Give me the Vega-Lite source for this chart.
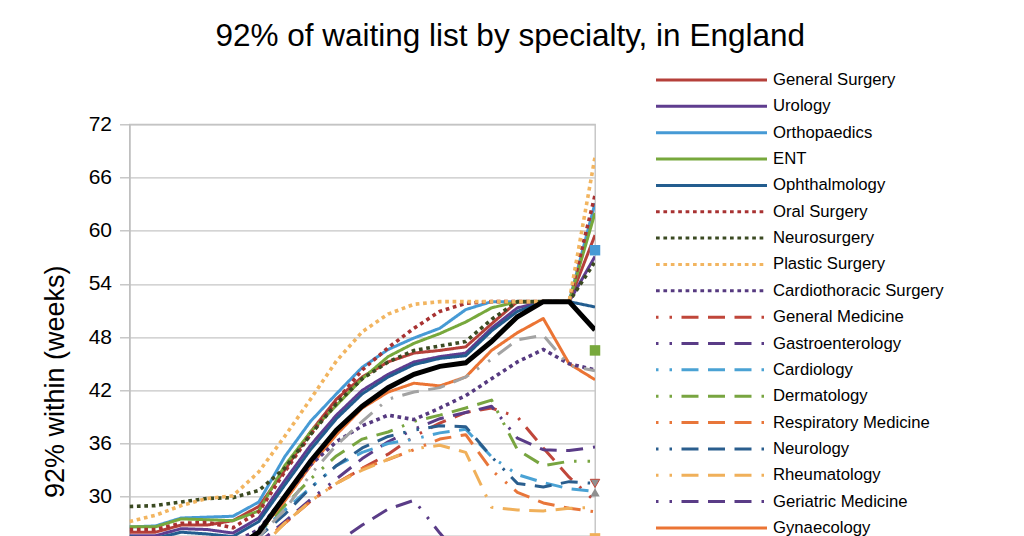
{
  "$schema": "https://vega.github.io/schema/vega-lite/v6.json",
  "width": 465.5,
  "height": 411.7,
  "autosize": {"type": "none"},
  "padding": {"left": 129.5, "top": 124.3, "right": 429, "bottom": 0},
  "background": "white",
  "config": {
    "font": "Liberation Sans",
    "view": {"stroke": "#bfbfbf", "strokeWidth": 1.3}
  },
  "title": {
    "text": "92% of waiting list by specialty, in England",
    "fontSize": 31.5,
    "fontWeight": "normal",
    "color": "black",
    "font": "Liberation Sans",
    "anchor": "middle",
    "frame": "group",
    "dx": 148,
    "offset": 18
  },
  "datasets": {
    "lines": [
      {"s":"General Surgery","m":0,"v":26.0},{"s":"General Surgery","m":1,"v":26.0},{"s":"General Surgery","m":2,"v":26.8},{"s":"General Surgery","m":3,"v":26.8},{"s":"General Surgery","m":4,"v":27.3},{"s":"General Surgery","m":5,"v":28.9},{"s":"General Surgery","m":6,"v":33.0},{"s":"General Surgery","m":7,"v":37.3},{"s":"General Surgery","m":8,"v":41.0},{"s":"General Surgery","m":9,"v":43.5},{"s":"General Surgery","m":10,"v":45.2},{"s":"General Surgery","m":11,"v":46.2},{"s":"General Surgery","m":12,"v":46.5},{"s":"General Surgery","m":13,"v":46.9},{"s":"General Surgery","m":14,"v":49.5},{"s":"General Surgery","m":15,"v":52},{"s":"General Surgery","m":16,"v":52},{"s":"General Surgery","m":17,"v":52},{"s":"General Surgery","m":18,"v":59.5},
      {"s":"Urology","m":0,"v":25.6},{"s":"Urology","m":1,"v":25.6},{"s":"Urology","m":2,"v":26.4},{"s":"Urology","m":3,"v":26.3},{"s":"Urology","m":4,"v":25.9},{"s":"Urology","m":5,"v":27.6},{"s":"Urology","m":6,"v":31.8},{"s":"Urology","m":7,"v":35.8},{"s":"Urology","m":8,"v":39.2},{"s":"Urology","m":9,"v":42.0},{"s":"Urology","m":10,"v":43.8},{"s":"Urology","m":11,"v":45.2},{"s":"Urology","m":12,"v":45.8},{"s":"Urology","m":13,"v":46.2},{"s":"Urology","m":14,"v":49.0},{"s":"Urology","m":15,"v":51.3},{"s":"Urology","m":16,"v":52},{"s":"Urology","m":17,"v":52},{"s":"Urology","m":18,"v":57.1},
      {"s":"Orthopaedics","m":0,"v":26.6},{"s":"Orthopaedics","m":1,"v":26.7},{"s":"Orthopaedics","m":2,"v":27.6},{"s":"Orthopaedics","m":3,"v":27.7},{"s":"Orthopaedics","m":4,"v":27.8},{"s":"Orthopaedics","m":5,"v":29.4},{"s":"Orthopaedics","m":6,"v":34.5},{"s":"Orthopaedics","m":7,"v":38.5},{"s":"Orthopaedics","m":8,"v":41.6},{"s":"Orthopaedics","m":9,"v":44.6},{"s":"Orthopaedics","m":10,"v":46.6},{"s":"Orthopaedics","m":11,"v":47.9},{"s":"Orthopaedics","m":12,"v":49.0},{"s":"Orthopaedics","m":13,"v":51.1},{"s":"Orthopaedics","m":14,"v":52},{"s":"Orthopaedics","m":15,"v":52},{"s":"Orthopaedics","m":16,"v":52},{"s":"Orthopaedics","m":17,"v":52},{"s":"Orthopaedics","m":18,"v":63.1},
      {"s":"ENT","m":0,"v":26.6},{"s":"ENT","m":1,"v":26.6},{"s":"ENT","m":2,"v":27.5},{"s":"ENT","m":3,"v":27.4},{"s":"ENT","m":4,"v":27.3},{"s":"ENT","m":5,"v":28.4},{"s":"ENT","m":6,"v":33.5},{"s":"ENT","m":7,"v":37.3},{"s":"ENT","m":8,"v":40.3},{"s":"ENT","m":9,"v":43.3},{"s":"ENT","m":10,"v":45.8},{"s":"ENT","m":11,"v":47.3},{"s":"ENT","m":12,"v":48.4},{"s":"ENT","m":13,"v":49.7},{"s":"ENT","m":14,"v":51.3},{"s":"ENT","m":15,"v":52},{"s":"ENT","m":16,"v":52},{"s":"ENT","m":17,"v":52},{"s":"ENT","m":18,"v":62.0},
      {"s":"Ophthalmology","m":0,"v":25.5},{"s":"Ophthalmology","m":1,"v":25.3},{"s":"Ophthalmology","m":2,"v":26.0},{"s":"Ophthalmology","m":3,"v":25.8},{"s":"Ophthalmology","m":4,"v":25.5},{"s":"Ophthalmology","m":5,"v":27.2},{"s":"Ophthalmology","m":6,"v":31.3},{"s":"Ophthalmology","m":7,"v":35.3},{"s":"Ophthalmology","m":8,"v":38.8},{"s":"Ophthalmology","m":9,"v":41.6},{"s":"Ophthalmology","m":10,"v":43.5},{"s":"Ophthalmology","m":11,"v":44.9},{"s":"Ophthalmology","m":12,"v":45.6},{"s":"Ophthalmology","m":13,"v":45.9},{"s":"Ophthalmology","m":14,"v":48.7},{"s":"Ophthalmology","m":15,"v":50.9},{"s":"Ophthalmology","m":16,"v":52},{"s":"Ophthalmology","m":17,"v":52},{"s":"Ophthalmology","m":18,"v":51.4},
      {"s":"Oral Surgery","m":0,"v":26.3},{"s":"Oral Surgery","m":1,"v":26.3},{"s":"Oral Surgery","m":2,"v":27.0},{"s":"Oral Surgery","m":3,"v":27.1},{"s":"Oral Surgery","m":4,"v":26.5},{"s":"Oral Surgery","m":5,"v":28.3},{"s":"Oral Surgery","m":6,"v":32.8},{"s":"Oral Surgery","m":7,"v":37.0},{"s":"Oral Surgery","m":8,"v":40.8},{"s":"Oral Surgery","m":9,"v":44.3},{"s":"Oral Surgery","m":10,"v":46.8},{"s":"Oral Surgery","m":11,"v":49.0},{"s":"Oral Surgery","m":12,"v":50.9},{"s":"Oral Surgery","m":13,"v":51.8},{"s":"Oral Surgery","m":14,"v":52},{"s":"Oral Surgery","m":15,"v":52},{"s":"Oral Surgery","m":16,"v":52},{"s":"Oral Surgery","m":17,"v":52},{"s":"Oral Surgery","m":18,"v":64.0},
      {"s":"Neurosurgery","m":0,"v":28.9},{"s":"Neurosurgery","m":1,"v":29.0},{"s":"Neurosurgery","m":2,"v":29.4},{"s":"Neurosurgery","m":3,"v":29.8},{"s":"Neurosurgery","m":4,"v":29.9},{"s":"Neurosurgery","m":5,"v":30.7},{"s":"Neurosurgery","m":6,"v":33.2},{"s":"Neurosurgery","m":7,"v":37.0},{"s":"Neurosurgery","m":8,"v":40.5},{"s":"Neurosurgery","m":9,"v":43.3},{"s":"Neurosurgery","m":10,"v":45.2},{"s":"Neurosurgery","m":11,"v":46.5},{"s":"Neurosurgery","m":12,"v":47.0},{"s":"Neurosurgery","m":13,"v":47.5},{"s":"Neurosurgery","m":14,"v":50.0},{"s":"Neurosurgery","m":15,"v":52},{"s":"Neurosurgery","m":16,"v":52},{"s":"Neurosurgery","m":17,"v":52},{"s":"Neurosurgery","m":18,"v":56.5},
      {"s":"Plastic Surgery","m":0,"v":27.2},{"s":"Plastic Surgery","m":1,"v":27.9},{"s":"Plastic Surgery","m":2,"v":29.0},{"s":"Plastic Surgery","m":3,"v":29.8},{"s":"Plastic Surgery","m":4,"v":30.1},{"s":"Plastic Surgery","m":5,"v":32.8},{"s":"Plastic Surgery","m":6,"v":36.8},{"s":"Plastic Surgery","m":7,"v":41.0},{"s":"Plastic Surgery","m":8,"v":45.3},{"s":"Plastic Surgery","m":9,"v":48.6},{"s":"Plastic Surgery","m":10,"v":50.6},{"s":"Plastic Surgery","m":11,"v":51.7},{"s":"Plastic Surgery","m":12,"v":52},{"s":"Plastic Surgery","m":13,"v":52},{"s":"Plastic Surgery","m":14,"v":52},{"s":"Plastic Surgery","m":15,"v":52},{"s":"Plastic Surgery","m":16,"v":52},{"s":"Plastic Surgery","m":17,"v":52},{"s":"Plastic Surgery","m":18,"v":68.3},
      {"s":"Cardiothoracic Surgery","m":0,"v":24.5},{"s":"Cardiothoracic Surgery","m":1,"v":24.6},{"s":"Cardiothoracic Surgery","m":2,"v":25.0},{"s":"Cardiothoracic Surgery","m":3,"v":25.0},{"s":"Cardiothoracic Surgery","m":4,"v":24.8},{"s":"Cardiothoracic Surgery","m":5,"v":26.3},{"s":"Cardiothoracic Surgery","m":6,"v":30.0},{"s":"Cardiothoracic Surgery","m":7,"v":33.6},{"s":"Cardiothoracic Surgery","m":8,"v":36.2},{"s":"Cardiothoracic Surgery","m":9,"v":38.0},{"s":"Cardiothoracic Surgery","m":10,"v":39.2},{"s":"Cardiothoracic Surgery","m":11,"v":38.7},{"s":"Cardiothoracic Surgery","m":12,"v":40.0},{"s":"Cardiothoracic Surgery","m":13,"v":41.4},{"s":"Cardiothoracic Surgery","m":14,"v":43.3},{"s":"Cardiothoracic Surgery","m":15,"v":45.2},{"s":"Cardiothoracic Surgery","m":16,"v":46.6},{"s":"Cardiothoracic Surgery","m":17,"v":45.0},{"s":"Cardiothoracic Surgery","m":18,"v":44.3},
      {"s":"General Medicine","m":0,"v":23.5},{"s":"General Medicine","m":1,"v":23.5},{"s":"General Medicine","m":2,"v":23.8},{"s":"General Medicine","m":3,"v":23.5},{"s":"General Medicine","m":4,"v":23.0},{"s":"General Medicine","m":5,"v":24.5},{"s":"General Medicine","m":6,"v":27.0},{"s":"General Medicine","m":7,"v":29.5},{"s":"General Medicine","m":8,"v":31.5},{"s":"General Medicine","m":9,"v":33.2},{"s":"General Medicine","m":10,"v":34.8},{"s":"General Medicine","m":11,"v":36.8},{"s":"General Medicine","m":12,"v":38.3},{"s":"General Medicine","m":13,"v":39.5},{"s":"General Medicine","m":14,"v":40.0},{"s":"General Medicine","m":15,"v":39.0},{"s":"General Medicine","m":16,"v":35.5},{"s":"General Medicine","m":17,"v":32.2},{"s":"General Medicine","m":18,"v":29.5},
      {"s":"Gastroenterology","m":0,"v":23.0},{"s":"Gastroenterology","m":1,"v":23.0},{"s":"Gastroenterology","m":2,"v":23.3},{"s":"Gastroenterology","m":3,"v":23.2},{"s":"Gastroenterology","m":4,"v":23.0},{"s":"Gastroenterology","m":5,"v":24.8},{"s":"Gastroenterology","m":6,"v":27.2},{"s":"Gastroenterology","m":7,"v":29.7},{"s":"Gastroenterology","m":8,"v":32.0},{"s":"Gastroenterology","m":9,"v":34.3},{"s":"Gastroenterology","m":10,"v":36.2},{"s":"Gastroenterology","m":11,"v":37.6},{"s":"Gastroenterology","m":12,"v":38.8},{"s":"Gastroenterology","m":13,"v":39.5},{"s":"Gastroenterology","m":14,"v":40.2},{"s":"Gastroenterology","m":15,"v":36.6},{"s":"Gastroenterology","m":16,"v":35.3},{"s":"Gastroenterology","m":17,"v":35.2},{"s":"Gastroenterology","m":18,"v":35.6},
      {"s":"Cardiology","m":0,"v":23.5},{"s":"Cardiology","m":1,"v":23.5},{"s":"Cardiology","m":2,"v":23.8},{"s":"Cardiology","m":3,"v":23.6},{"s":"Cardiology","m":4,"v":23.5},{"s":"Cardiology","m":5,"v":26.0},{"s":"Cardiology","m":6,"v":28.5},{"s":"Cardiology","m":7,"v":31.0},{"s":"Cardiology","m":8,"v":33.5},{"s":"Cardiology","m":9,"v":35.0},{"s":"Cardiology","m":10,"v":36.0},{"s":"Cardiology","m":11,"v":36.5},{"s":"Cardiology","m":12,"v":37.2},{"s":"Cardiology","m":13,"v":37.6},{"s":"Cardiology","m":14,"v":34.5},{"s":"Cardiology","m":15,"v":32.5},{"s":"Cardiology","m":16,"v":31.6},{"s":"Cardiology","m":17,"v":30.9},{"s":"Cardiology","m":18,"v":30.6},
      {"s":"Dermatology","m":0,"v":24.0},{"s":"Dermatology","m":1,"v":24.0},{"s":"Dermatology","m":2,"v":24.3},{"s":"Dermatology","m":3,"v":24.2},{"s":"Dermatology","m":4,"v":24.0},{"s":"Dermatology","m":5,"v":26.0},{"s":"Dermatology","m":6,"v":29.0},{"s":"Dermatology","m":7,"v":32.0},{"s":"Dermatology","m":8,"v":34.6},{"s":"Dermatology","m":9,"v":36.5},{"s":"Dermatology","m":10,"v":37.3},{"s":"Dermatology","m":11,"v":38.5},{"s":"Dermatology","m":12,"v":39.2},{"s":"Dermatology","m":13,"v":40.0},{"s":"Dermatology","m":14,"v":40.9},{"s":"Dermatology","m":15,"v":35.3},{"s":"Dermatology","m":16,"v":33.5},{"s":"Dermatology","m":17,"v":34.0},{"s":"Dermatology","m":18,"v":34.0},
      {"s":"Respiratory Medicine","m":0,"v":22.5},{"s":"Respiratory Medicine","m":1,"v":22.5},{"s":"Respiratory Medicine","m":2,"v":22.8},{"s":"Respiratory Medicine","m":3,"v":22.6},{"s":"Respiratory Medicine","m":4,"v":22.5},{"s":"Respiratory Medicine","m":5,"v":24.5},{"s":"Respiratory Medicine","m":6,"v":27.0},{"s":"Respiratory Medicine","m":7,"v":29.5},{"s":"Respiratory Medicine","m":8,"v":31.5},{"s":"Respiratory Medicine","m":9,"v":33.2},{"s":"Respiratory Medicine","m":10,"v":34.2},{"s":"Respiratory Medicine","m":11,"v":35.3},{"s":"Respiratory Medicine","m":12,"v":36.5},{"s":"Respiratory Medicine","m":13,"v":37.0},{"s":"Respiratory Medicine","m":14,"v":33.0},{"s":"Respiratory Medicine","m":15,"v":30.5},{"s":"Respiratory Medicine","m":16,"v":29.3},{"s":"Respiratory Medicine","m":17,"v":28.7},{"s":"Respiratory Medicine","m":18,"v":28.3},
      {"s":"Neurology","m":0,"v":23.5},{"s":"Neurology","m":1,"v":23.5},{"s":"Neurology","m":2,"v":23.7},{"s":"Neurology","m":3,"v":23.5},{"s":"Neurology","m":4,"v":23.3},{"s":"Neurology","m":5,"v":25.5},{"s":"Neurology","m":6,"v":28.0},{"s":"Neurology","m":7,"v":31.0},{"s":"Neurology","m":8,"v":33.5},{"s":"Neurology","m":9,"v":35.5},{"s":"Neurology","m":10,"v":36.8},{"s":"Neurology","m":11,"v":37.5},{"s":"Neurology","m":12,"v":38.0},{"s":"Neurology","m":13,"v":37.9},{"s":"Neurology","m":14,"v":34.5},{"s":"Neurology","m":15,"v":31.5},{"s":"Neurology","m":16,"v":31.1},{"s":"Neurology","m":17,"v":31.7},{"s":"Neurology","m":18,"v":31.5},
      {"s":"Rheumatology","m":0,"v":22.0},{"s":"Rheumatology","m":1,"v":22.0},{"s":"Rheumatology","m":2,"v":22.3},{"s":"Rheumatology","m":3,"v":22.2},{"s":"Rheumatology","m":4,"v":22.0},{"s":"Rheumatology","m":5,"v":24.0},{"s":"Rheumatology","m":6,"v":27.0},{"s":"Rheumatology","m":7,"v":29.5},{"s":"Rheumatology","m":8,"v":31.5},{"s":"Rheumatology","m":9,"v":33.0},{"s":"Rheumatology","m":10,"v":34.2},{"s":"Rheumatology","m":11,"v":35.4},{"s":"Rheumatology","m":12,"v":35.8},{"s":"Rheumatology","m":13,"v":35.0},{"s":"Rheumatology","m":14,"v":28.8},{"s":"Rheumatology","m":15,"v":28.5},{"s":"Rheumatology","m":16,"v":28.4},{"s":"Rheumatology","m":17,"v":28.7},{"s":"Rheumatology","m":18,"v":28.8},
      {"s":"Geriatric Medicine","m":0,"v":19.0},{"s":"Geriatric Medicine","m":1,"v":19.0},{"s":"Geriatric Medicine","m":2,"v":19.5},{"s":"Geriatric Medicine","m":3,"v":19.3},{"s":"Geriatric Medicine","m":4,"v":19.0},{"s":"Geriatric Medicine","m":5,"v":20.5},{"s":"Geriatric Medicine","m":6,"v":22.0},{"s":"Geriatric Medicine","m":7,"v":23.5},{"s":"Geriatric Medicine","m":8,"v":24.8},{"s":"Geriatric Medicine","m":9,"v":26.8},{"s":"Geriatric Medicine","m":10,"v":28.6},{"s":"Geriatric Medicine","m":11,"v":29.6},{"s":"Geriatric Medicine","m":12,"v":25.9},{"s":"Geriatric Medicine","m":13,"v":22.5},{"s":"Geriatric Medicine","m":14,"v":21.0},{"s":"Geriatric Medicine","m":15,"v":20.5},{"s":"Geriatric Medicine","m":16,"v":20.0},{"s":"Geriatric Medicine","m":17,"v":20.0},{"s":"Geriatric Medicine","m":18,"v":20.0},
      {"s":"Gynaecology","m":0,"v":23.0},{"s":"Gynaecology","m":1,"v":23.0},{"s":"Gynaecology","m":2,"v":23.5},{"s":"Gynaecology","m":3,"v":23.3},{"s":"Gynaecology","m":4,"v":24.0},{"s":"Gynaecology","m":5,"v":26.0},{"s":"Gynaecology","m":6,"v":29.5},{"s":"Gynaecology","m":7,"v":33.5},{"s":"Gynaecology","m":8,"v":37.0},{"s":"Gynaecology","m":9,"v":40.0},{"s":"Gynaecology","m":10,"v":41.8},{"s":"Gynaecology","m":11,"v":42.8},{"s":"Gynaecology","m":12,"v":42.5},{"s":"Gynaecology","m":13,"v":43.5},{"s":"Gynaecology","m":14,"v":46.5},{"s":"Gynaecology","m":15,"v":48.5},{"s":"Gynaecology","m":16,"v":50.1},{"s":"Gynaecology","m":17,"v":45.0},{"s":"Gynaecology","m":18,"v":43.2},
      {"s":"Other","m":0,"v":22.5},{"s":"Other","m":1,"v":22.5},{"s":"Other","m":2,"v":23.0},{"s":"Other","m":3,"v":23.0},{"s":"Other","m":4,"v":23.0},{"s":"Other","m":5,"v":25.5},{"s":"Other","m":6,"v":28.5},{"s":"Other","m":7,"v":32.5},{"s":"Other","m":8,"v":35.8},{"s":"Other","m":9,"v":38.5},{"s":"Other","m":10,"v":41.0},{"s":"Other","m":11,"v":41.8},{"s":"Other","m":12,"v":42.3},{"s":"Other","m":13,"v":43.5},{"s":"Other","m":14,"v":45.5},{"s":"Other","m":15,"v":47.7},{"s":"Other","m":16,"v":48.2},{"s":"Other","m":17,"v":44.8},{"s":"Other","m":18,"v":44.2},
      {"s":"All specialties","m":0,"v":23.0},{"s":"All specialties","m":1,"v":23.0},{"s":"All specialties","m":2,"v":23.5},{"s":"All specialties","m":3,"v":23.3},{"s":"All specialties","m":4,"v":24.0},{"s":"All specialties","m":5,"v":26.0},{"s":"All specialties","m":6,"v":30.0},{"s":"All specialties","m":7,"v":34.0},{"s":"All specialties","m":8,"v":37.5},{"s":"All specialties","m":9,"v":40.2},{"s":"All specialties","m":10,"v":42.3},{"s":"All specialties","m":11,"v":43.8},{"s":"All specialties","m":12,"v":44.7},{"s":"All specialties","m":13,"v":45.1},{"s":"All specialties","m":14,"v":47.5},{"s":"All specialties","m":15,"v":50.3},{"s":"All specialties","m":16,"v":52},{"s":"All specialties","m":17,"v":52},{"s":"All specialties","m":18,"v":48.8}
    ],
    "marks": [
      {"k":"blue","m":18,"v":57.8},
      {"k":"green","m":18,"v":46.5},
      {"k":"grayTop","m":18,"v":31.5},
      {"k":"grayBottom","m":18,"v":30.5},
      {"k":"orange","m":18,"v":25.3}
    ]
  },
  "data": {"name": "lines"},
  "encoding": {
    "x": {"field": "m", "type": "quantitative", "scale": {"domain": [0, 18], "nice": false, "zero": false}, "axis": null},
    "y": {
      "field": "v", "type": "quantitative",
      "scale": {"domain": [25.57, 72], "nice": false, "zero": false},
      "axis": {
        "values": [30, 36, 42, 48, 54, 60, 66, 72],
        "grid": true, "gridColor": "#c6c6c6", "gridWidth": 1.3,
        "domainColor": "#bfbfbf", "domainWidth": 1.3,
        "tickColor": "#bfbfbf", "tickSize": 10, "tickWidth": 1.3,
        "labelFontSize": 21, "labelColor": "black", "labelPadding": 8, "labelFont": "Liberation Sans",
        "title": "92% within (weeks)", "titleFontSize": 27, "titleFontWeight": "normal", "titleColor": "black",
        "titleFont": "Liberation Sans", "titleX": -74, "titleY": 257, "titleAngle": -90,
        "titleBaseline": "middle", "titleAlign": "center"
      }
    }
  },
  "layer": [
    {
      "transform": [{"filter": {"field": "s", "oneOf": ["General Surgery","Urology","Orthopaedics","ENT","Ophthalmology","General Medicine","Gastroenterology","Cardiology","Dermatology","Respiratory Medicine","Neurology","Rheumatology","Geriatric Medicine","Gynaecology"]}}],
      "mark": {"type": "line", "strokeWidth": 3, "clip": true, "strokeJoin": "round"},
      "encoding": {
        "color": {
          "field": "s", "type": "nominal",
          "scale": {
            "domain": ["General Surgery","Urology","Orthopaedics","ENT","Ophthalmology","Oral Surgery","Neurosurgery","Plastic Surgery","Cardiothoracic Surgery","General Medicine","Gastroenterology","Cardiology","Dermatology","Respiratory Medicine","Neurology","Rheumatology","Geriatric Medicine","Gynaecology"],
            "range": ["#b5403a","#5f3d8f","#469ad5","#77a83c","#235d8f","#a83232","#3b4a22","#f2b560","#563a80","#c0463a","#5a3c87","#4aa2d4","#78a540","#e8763a","#2a5e8e","#f0b05a","#5a3c87","#eb7434"]
          },
          "legend": {
            "title": null, "orient": "none", "legendX": 525, "legendY": -54.3,
            "symbolType": "stroke", "symbolSize": 12321, "symbolStrokeWidth": 3,
            "clipHeight": 20, "rowPadding": 6.35, "labelFontSize": 16.7, "labelColor": "black",
            "labelFont": "Liberation Sans", "labelOffset": 4.5, "labelLimit": 300, "padding": 0
          }
        },
        "strokeDash": {
          "field": "s", "type": "nominal",
          "scale": {
            "domain": ["General Surgery","Urology","Orthopaedics","ENT","Ophthalmology","Oral Surgery","Neurosurgery","Plastic Surgery","Cardiothoracic Surgery","General Medicine","Gastroenterology","Cardiology","Dermatology","Respiratory Medicine","Neurology","Rheumatology","Geriatric Medicine","Gynaecology"],
            "range": [[1,0],[1,0],[1,0],[1,0],[1,0],[3.7,3.7],[3.7,3.7],[3.7,3.7],[3.7,3.7],[2.5,11,2.5,9.5,17,9.5,17,9.5,17,10],[2.5,11,2.5,9.5,17,9.5,17,9.5,17,10],[2.5,11,2.5,9.5,17,9.5,17,9.5,17,10],[2.5,11,2.5,9.5,17,9.5,17,9.5,17,10],[2.5,11,2.5,9.5,17,9.5,17,9.5,17,10],[2.5,11,2.5,9.5,17,9.5,17,9.5,17,10],[2.5,11,2.5,9.5,17,9.5,17,9.5,17,10],[2.5,11,2.5,9.5,17,9.5,17,9.5,17,10],[1,0]]
          },
          "legend": {
            "title": null, "orient": "none", "legendX": 525, "legendY": -54.3,
            "symbolType": "stroke", "symbolSize": 12321, "symbolStrokeWidth": 3,
            "clipHeight": 20, "rowPadding": 6.35, "labelFontSize": 16.7, "labelColor": "black",
            "labelFont": "Liberation Sans", "labelOffset": 4.5, "labelLimit": 300, "padding": 0
          }
        }
      }
    },
    {
      "transform": [{"filter": {"field": "s", "oneOf": ["Oral Surgery","Neurosurgery","Plastic Surgery","Cardiothoracic Surgery"]}}],
      "mark": {"type": "line", "strokeWidth": 3.6, "clip": true},
      "encoding": {
        "color": {
          "field": "s", "type": "nominal",
          "scale": {
            "domain": ["General Surgery","Urology","Orthopaedics","ENT","Ophthalmology","Oral Surgery","Neurosurgery","Plastic Surgery","Cardiothoracic Surgery","General Medicine","Gastroenterology","Cardiology","Dermatology","Respiratory Medicine","Neurology","Rheumatology","Geriatric Medicine","Gynaecology"],
            "range": ["#b5403a","#5f3d8f","#469ad5","#77a83c","#235d8f","#a83232","#3b4a22","#f2b560","#563a80","#c0463a","#5a3c87","#4aa2d4","#78a540","#e8763a","#2a5e8e","#f0b05a","#5a3c87","#eb7434"]
          },
          "legend": {
            "title": null, "orient": "none", "legendX": 525, "legendY": -54.3,
            "symbolType": "stroke", "symbolSize": 12321, "symbolStrokeWidth": 3,
            "clipHeight": 20, "rowPadding": 6.35, "labelFontSize": 16.7, "labelColor": "black",
            "labelFont": "Liberation Sans", "labelOffset": 4.5, "labelLimit": 300, "padding": 0
          }
        },
        "strokeDash": {
          "field": "s", "type": "nominal",
          "scale": {
            "domain": ["General Surgery","Urology","Orthopaedics","ENT","Ophthalmology","Oral Surgery","Neurosurgery","Plastic Surgery","Cardiothoracic Surgery","General Medicine","Gastroenterology","Cardiology","Dermatology","Respiratory Medicine","Neurology","Rheumatology","Geriatric Medicine","Gynaecology"],
            "range": [[1,0],[1,0],[1,0],[1,0],[1,0],[3.7,3.7],[3.7,3.7],[3.7,3.7],[3.7,3.7],[2.5,11,2.5,9.5,17,9.5,17,9.5,17,10],[2.5,11,2.5,9.5,17,9.5,17,9.5,17,10],[2.5,11,2.5,9.5,17,9.5,17,9.5,17,10],[2.5,11,2.5,9.5,17,9.5,17,9.5,17,10],[2.5,11,2.5,9.5,17,9.5,17,9.5,17,10],[2.5,11,2.5,9.5,17,9.5,17,9.5,17,10],[2.5,11,2.5,9.5,17,9.5,17,9.5,17,10],[2.5,11,2.5,9.5,17,9.5,17,9.5,17,10],[1,0]]
          },
          "legend": {
            "title": null, "orient": "none", "legendX": 525, "legendY": -54.3,
            "symbolType": "stroke", "symbolSize": 12321, "symbolStrokeWidth": 3,
            "clipHeight": 20, "rowPadding": 6.35, "labelFontSize": 16.7, "labelColor": "black",
            "labelFont": "Liberation Sans", "labelOffset": 4.5, "labelLimit": 300, "padding": 0
          }
        }
      }
    },
    {
      "transform": [{"filter": {"field": "s", "equal": "Other"}}],
      "mark": {"type": "line", "strokeWidth": 3, "clip": true, "color": "#a3a3a3", "strokeDash": [2.5,11,2.5,9.5,17,9.5,17,9.5,17,10]}
    },
    {
      "transform": [{"filter": {"field": "s", "equal": "All specialties"}}],
      "mark": {"type": "line", "strokeWidth": 5, "clip": true, "color": "black", "strokeJoin": "miter"}
    },
    {
      "data": {"name": "marks"},
      "transform": [{"filter": {"field": "k", "equal": "blue"}}],
      "mark": {"type": "point", "shape": "square", "filled": true, "size": 110, "color": "#469ad5", "opacity": 1}
    },
    {
      "data": {"name": "marks"},
      "transform": [{"filter": {"field": "k", "equal": "green"}}],
      "mark": {"type": "point", "shape": "square", "filled": true, "size": 110, "color": "#77a83c", "opacity": 1}
    },
    {
      "data": {"name": "marks"},
      "transform": [{"filter": {"field": "k", "equal": "grayTop"}}],
      "mark": {"type": "point", "shape": "triangle-down", "filled": true, "size": 90, "color": "#8f8f8f", "stroke": "#c0463a", "strokeWidth": 1, "opacity": 1}
    },
    {
      "data": {"name": "marks"},
      "transform": [{"filter": {"field": "k", "equal": "grayBottom"}}],
      "mark": {"type": "point", "shape": "triangle-up", "filled": true, "size": 90, "color": "#8f8f8f", "opacity": 1}
    },
    {
      "data": {"name": "marks"},
      "transform": [{"filter": {"field": "k", "equal": "orange"}}],
      "mark": {"type": "point", "shape": "square", "filled": true, "size": 110, "color": "#f0b05a", "opacity": 1}
    }
  ]
}
